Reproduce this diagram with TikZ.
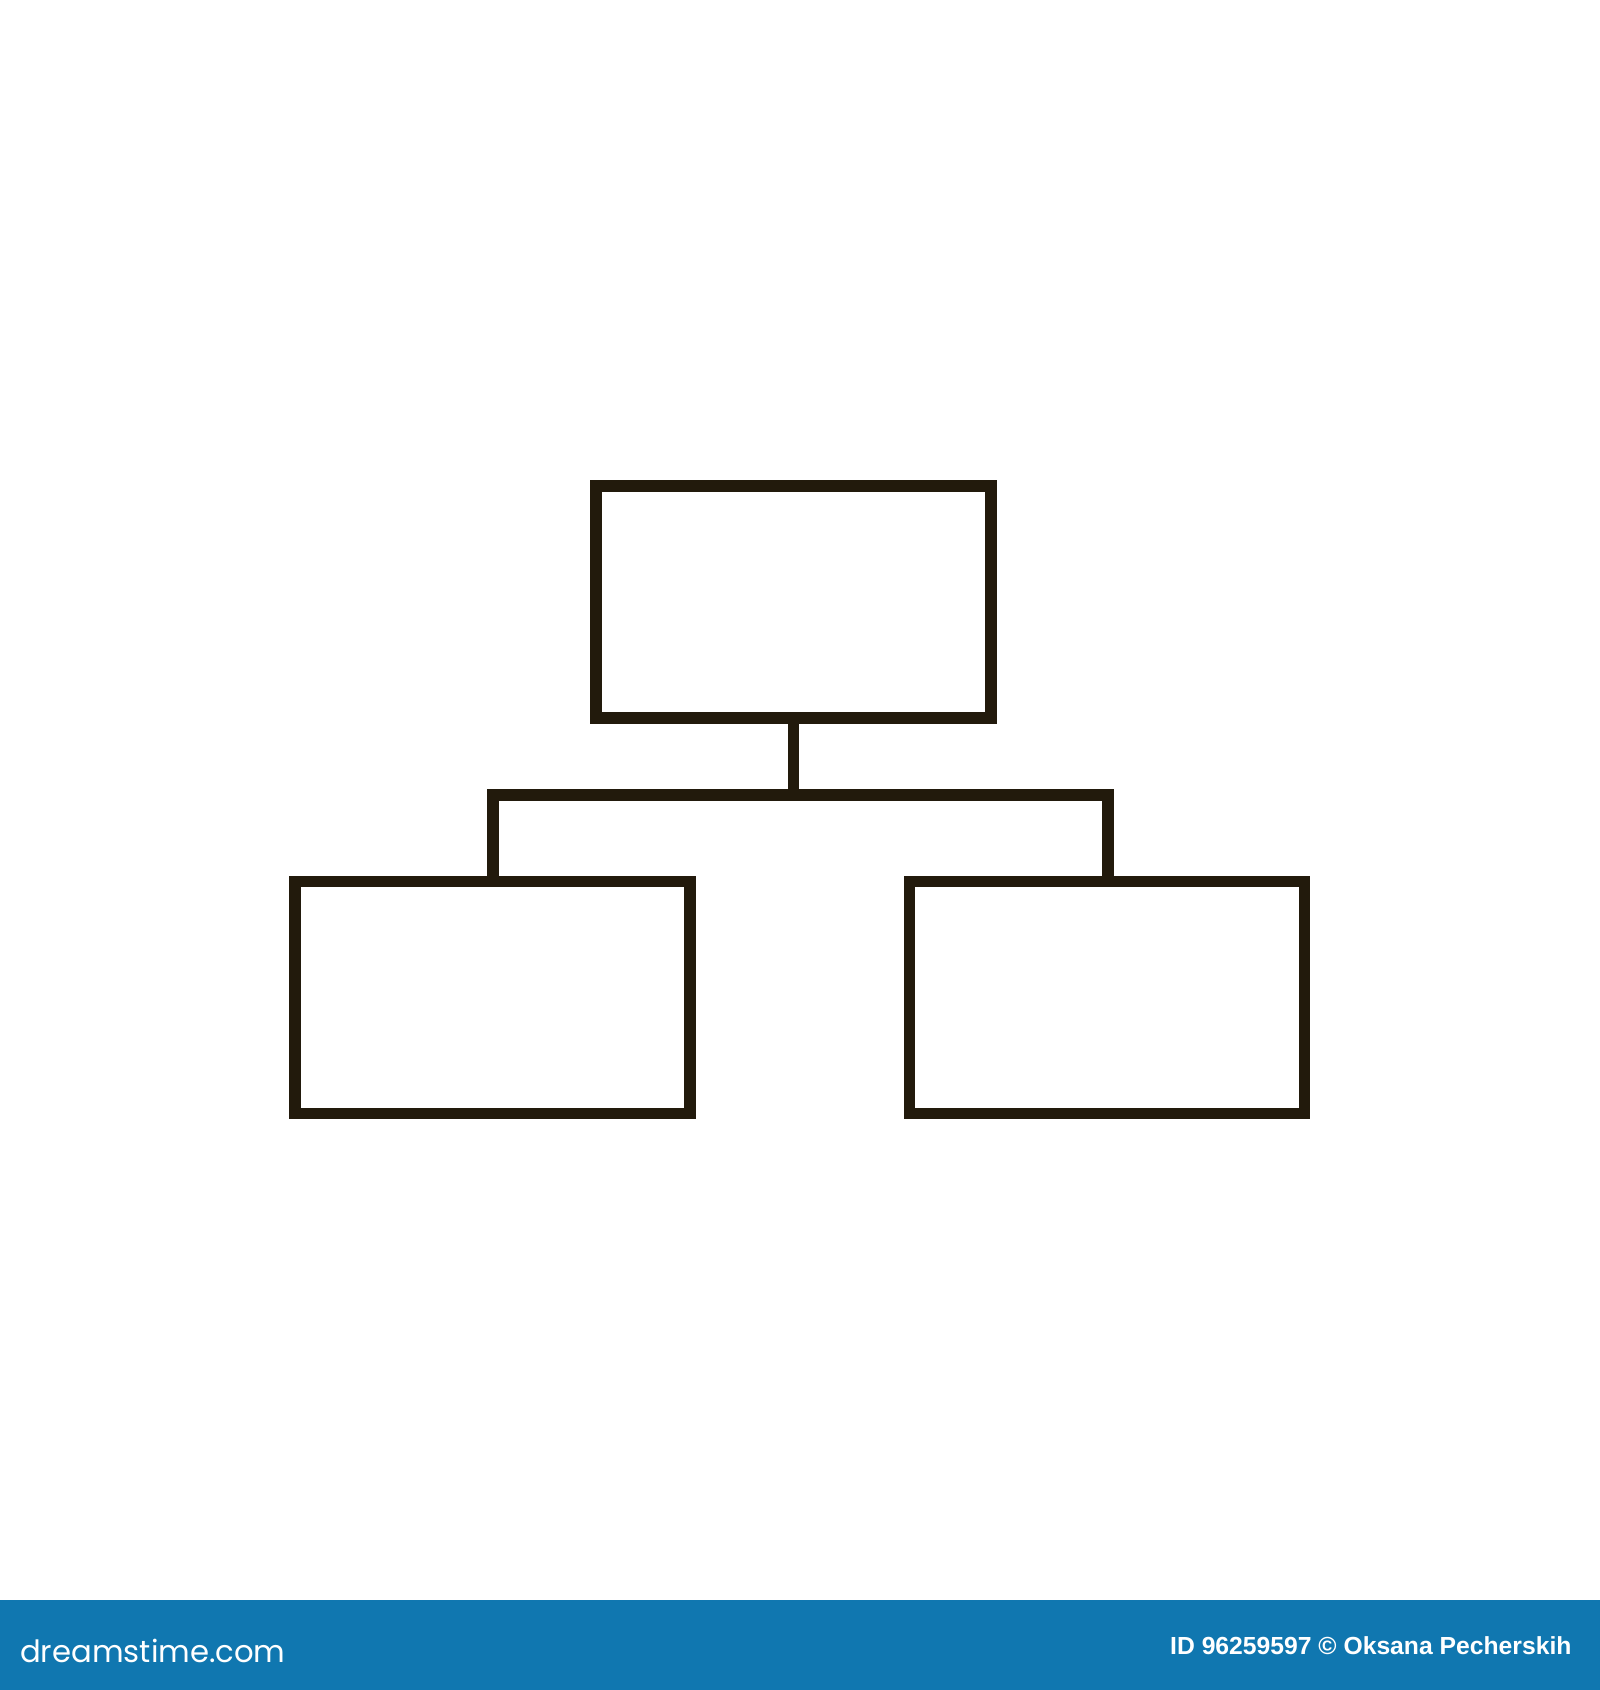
\documentclass[tikz,border=0pt]{standalone}
\usepackage{fontspec}
\newfontfamily\logofont{Poppins}
\newfontfamily\idfont{Liberation Sans}
\definecolor{ink}{RGB}{34,26,12}
\definecolor{barblue}{RGB}{16,119,176}
\begin{document}
\begin{tikzpicture}[x=1pt,y=-1pt,
  orgbox/.style={draw=ink,line width=11.7pt,minimum width=395pt,minimum height=232pt,inner sep=0pt,outer sep=0pt,anchor=north west},
  link/.style={draw=ink,line width=11.7pt,line cap=butt}]
\useasboundingbox (0,0) rectangle (1600,1690);
\fill[white] (0,0) rectangle (1600,1690);
\fill[barblue] (0,1600) rectangle (1600,1690);
% boxes (centre-line coordinates)
\node[orgbox] (top) at (596,486) {};
\node[orgbox] (left) at (295,881.5) {};
\node[orgbox] (right) at (909.5,881.5) {};
\coordinate (bar) at (793.5,795);
\coordinate (lstem) at (493,0);
\coordinate (rstem) at (1108,0);
\draw[link] (top.south -| bar) -- (bar);
\draw[link] (left.north -| lstem) |- (bar) -| (right.north -| rstem);
% footer
\node[anchor=base west,inner sep=0pt,text=white] (logo) at (20,1662) {\logofont\fontsize{30.7}{30.7}\selectfont dreamstime.com};
\node[anchor=base west,inner sep=0pt,text=white] (credit) at (1170,1654.3) {\idfont\bfseries\fontsize{24.7}{24.7}\selectfont ID 96259597 © Oksana Pecherskih};
\end{tikzpicture}
\end{document}
